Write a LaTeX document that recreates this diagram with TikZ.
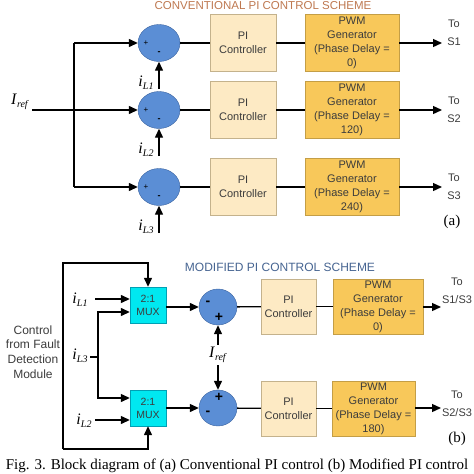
\documentclass[tikz,border=0pt]{standalone}
\usepackage{fontspec}
\setmainfont{Liberation Serif}
\setsansfont{Liberation Sans}
\usetikzlibrary{arrows.meta,shapes.geometric}

\definecolor{sumblue}{RGB}{91,142,213}
\definecolor{sumedge}{RGB}{60,100,160}
\definecolor{pifill}{RGB}{253,234,196}
\definecolor{piedge}{RGB}{196,178,140}
\definecolor{pwmfill}{RGB}{248,200,90}
\definecolor{pwmedge}{RGB}{196,158,70}
\definecolor{muxfill}{RGB}{0,232,240}
\definecolor{muxedge}{RGB}{0,160,180}
\definecolor{boxtext}{RGB}{60,60,60}
\definecolor{titlea}{RGB}{190,120,80}
\definecolor{titleb}{RGB}{70,100,145}

\newcommand{\boxfont}{\sffamily\fontsize{11}{14}\selectfont}
\newcommand{\curr}[2]{\textit{#1}\raisebox{-0.45ex}{\fontsize{10}{10}\selectfont\textit{#2}}}

\begin{document}
\begin{tikzpicture}
  [x=1pt, y=-1pt,
   wire/.style={line width=1.3pt},
   arr/.style={wire, -{Triangle[length=9pt,width=8pt]}},
   sum/.style={ellipse, draw=sumedge, fill=sumblue, inner sep=0pt,
     minimum width=42pt, minimum height=37pt},
   pibox/.style={draw=piedge, fill=pifill, inner sep=1pt, align=center,
     font=\boxfont, text=boxtext, minimum width=66pt, minimum height=57pt},
   pwmbox/.style={draw=pwmedge, fill=pwmfill, inner sep=1pt, align=center,
     font=\boxfont, text=boxtext, minimum width=94pt, minimum height=57pt},
   muxbox/.style={draw=muxedge, fill=muxfill, inner sep=0pt, align=center,
     font={\sffamily\fontsize{10.5}{13}\selectfont}, text=boxtext,
     minimum width=36pt, minimum height=36pt},
   dest/.style={align=center, font={\sffamily\fontsize{11}{18}\selectfont}, text=boxtext},
   curr/.style={font=\fontsize{16}{16}\selectfont, inner sep=2pt}]
  \useasboundingbox (0,0) rectangle (474,474);
  \clip (0,0) rectangle (474,474);

  % (a) conventional scheme
  \node[anchor=base, text=titlea, font={\sffamily\fontsize{11.5}{12}\selectfont}] (titlea) at (263,9.5) {CONVENTIONAL PI CONTROL SCHEME};

  \node[curr] (irefa) at (20,102) {\curr{I}{ref}};
  \coordinate (irefin) at (32,110);

  \foreach \i/\y/\ty/\d in {1/43/33/0, 2/110/110/120, 3/187/187/240}
  {
    \node[sum] (sum\i) at (159,\y) {};
    \node[font=\sffamily\fontsize{8}{8}\selectfont] (plus\i) at (146,\y) {+};
    \node[font=\sffamily\bfseries\fontsize{9}{9}\selectfont] (minus\i) at (159,{\y+10}) {-};
    \node[pibox] (pi\i) at (243,\y) {PI\\Controller};
    \node[pwmbox] (pwm\i) at (352,\y) {PWM\\Generator\\(Phase Delay =\\\d)};
    \coordinate (bus\i) at (74,\y);
    \coordinate (to\i) at (442,\y);
    \node[dest] (dest\i) at (454,\ty) {To\\S\i};
    \node[curr] (il\i) at (146,{\y+40}) {\curr{i}{L\i}};
    \coordinate (ilin\i) at (159,{\y+46});

    \draw[arr] (ilin\i) -- (sum\i.south);
    \draw[wire] (sum\i) -- (pi\i);
    \draw[wire] (pi\i) -- (pwm\i);
    \draw[arr] (pwm\i) -- (to\i);
  }

  \draw[wire] (bus1) -- (bus3);
  \draw[arr] (bus1) -- (sum1.west);
  \draw[arr] (irefin) -- (sum2.west);
  \draw[arr] (bus3) -- (sum3.west);

  \node[font=\fontsize{15}{15}\selectfont] (capa) at (452,222) {(a)};

  % (b) modified scheme
  \node[text=titleb, font={\sffamily\fontsize{12}{12}\selectfont}] (titleb) at (280,267) {MODIFIED PI CONTROL SCHEME};

  \node[align=center, font={\sffamily\fontsize{12}{14.7}\selectfont}, text=boxtext] (ctrl) at (33,352)
    {Control\\from Fault\\Detection\\Module};

  \node[muxbox] (mux1) at (148,305) {2:1\\MUX};
  \node[muxbox] (mux2) at (148,408) {2:1\\MUX};

  \node[sum, minimum width=38pt, minimum height=36pt] (sumb1) at (218,307) {};
  \node[sum, minimum width=38pt, minimum height=36pt] (sumb2) at (218,408) {};
  \node[font=\sffamily\bfseries\fontsize{14}{14}\selectfont] (minusb1) at (208,303) {-};
  \node[font=\sffamily\bfseries\fontsize{14}{14}\selectfont] (plusb1) at (219,317) {+};
  \node[font=\sffamily\bfseries\fontsize{14}{14}\selectfont] (plusb2) at (219,397) {+};
  \node[font=\sffamily\bfseries\fontsize{14}{14}\selectfont] (minusb2) at (208,413) {-};

  \node[pibox, minimum width=55pt, minimum height=55pt] (pib1) at (288.5,306.5) {PI\\Controller};
  \node[pibox, minimum width=55pt, minimum height=55pt] (pib2) at (288.5,408.5) {PI\\Controller};
  \node[pwmbox, minimum width=90pt, minimum height=55pt] (pwmb1) at (378,306.5) {PWM\\Generator\\(Phase Delay =\\0)};
  \node[pwmbox, minimum width=83pt, minimum height=55pt] (pwmb2) at (373.5,408.5) {PWM\\Generator\\(Phase Delay =\\180)};

  \node[curr] (ilb1) at (80,300) {\curr{i}{L1}};
  \node[curr] (ilb3) at (80,356) {\curr{i}{L3}};
  \node[curr] (ilb2) at (84,421) {\curr{i}{L2}};
  \node[curr] (irefb) at (218,355) {\curr{I}{ref}};

  \coordinate (inb1) at (95,299);
  \coordinate (inb2) at (95,420);
  \coordinate (split) at (98,357);
  \coordinate (fbtop) at (63,263);
  \coordinate (fbbot) at (63,449);
  \coordinate (tob1) at (441,307);
  \coordinate (tob2) at (441,408);

  \draw[arr] (inb1) -- (inb1 -| mux1.west);
  \draw[arr] (inb2) -- (inb2 -| mux2.west);
  \draw[wire] (90,357) -- (split);
  \draw[arr] (split) |- ([yshift=-7pt]mux1.west);
  \draw[arr] (split) |- ([yshift=10pt]mux2.west);

  \draw[arr, line join=miter] (fbbot) -- (fbtop) -| (mux1.north);
  \draw[arr, line join=miter] (fbbot) -| (mux2.south);

  \draw[arr] (mux1.east |- sumb1) -- (sumb1.west);
  \draw[arr] (mux2.east |- sumb2) -- (sumb2.west);
  \draw[arr] (irefb) -- (sumb1.south);
  \draw[arr] (irefb) -- (sumb2.north);
  \draw[wire] (sumb1) -- (pib1);
  \draw[wire] (sumb2) -- (pib2);
  \draw[wire] (pib1) -- (pwmb1);
  \draw[wire] (pib2) -- (pwmb2);
  \draw[arr] (pwmb1.east |- tob1) -- (tob1);
  \draw[arr] (pwmb2.east |- tob2) -- (tob2);

  \node[dest] (destb1) at (457,291) {To\\S1/S3};
  \node[dest] (destb2) at (457,404) {To\\S2/S3};
  \node[font=\fontsize{15}{15}\selectfont] (capb) at (457,439) {(b)};

  \node[anchor=base, font=\fontsize{15}{16}\selectfont] (caption) at (237,469.5)
    {Fig. 3. Block diagram of (a) Conventional PI control (b) Modified PI control};
\end{tikzpicture}
\end{document}
